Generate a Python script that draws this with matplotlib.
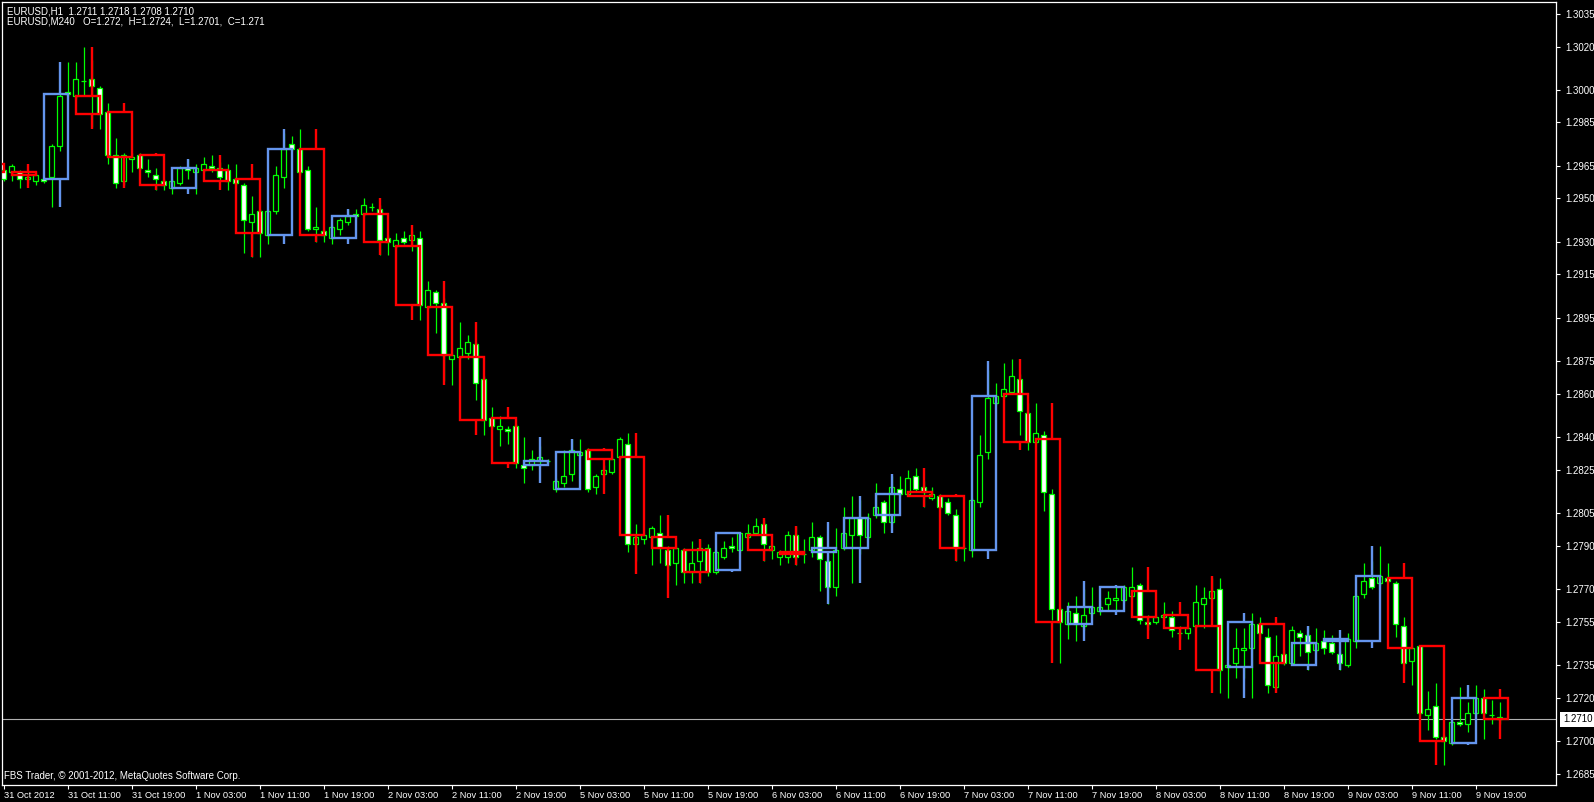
import matplotlib
matplotlib.use("Agg")
import matplotlib.pyplot as plt
import matplotlib.transforms as mtransforms
from matplotlib.patches import Rectangle
import numpy as np

plt.rcParams['font.family'] = ['Liberation Sans', 'DejaVu Sans']

# EURUSD H1 bars, 31 Oct 03:00 .. 9 Nov 22:00 (8 bars per row)
h1_open = [
    1.2963, 1.2962, 1.2962, 1.2959, 1.2958, 1.2959, 1.2960, 1.2974,
    1.2999, 1.2997, 1.3004, 1.3005, 1.3001, 1.2990, 1.2970, 1.2958,
    1.2968, 1.2970, 1.2963, 1.2961, 1.2958, 1.2955, 1.2957, 1.2964,
    1.2962, 1.2963, 1.2965, 1.2964, 1.2963, 1.2959, 1.2956, 1.2939,
    1.2944, 1.2933, 1.2944, 1.2960, 1.2975, 1.2973, 1.2963, 1.2936,
    1.2935, 1.2932, 1.2936, 1.2939, 1.2943, 1.2943, 1.2946, 1.2945,
    1.2932, 1.2928, 1.2932, 1.2931, 1.2932, 1.2900, 1.2907, 1.2902,
    1.2876, 1.2877, 1.2879, 1.2883, 1.2867, 1.2849, 1.2844, 1.2844,
    1.2845, 1.2827, 1.2827, 1.2829, 1.2829, 1.2816, 1.2819, 1.2823,
    1.2832, 1.2834, 1.2817, 1.2823, 1.2824, 1.2831, 1.2837, 1.2791,
    1.2793, 1.2794, 1.2796, 1.2788, 1.2782, 1.2788, 1.2778, 1.2783,
    1.2789, 1.2778, 1.2785, 1.2790, 1.2788, 1.2794, 1.2796, 1.2800,
    1.2788, 1.2785, 1.2785, 1.2795, 1.2786, 1.2788, 1.2794, 1.2783,
    1.2771, 1.2789, 1.2795, 1.2803, 1.2794, 1.2804, 1.2810, 1.2801,
    1.2816, 1.2814, 1.2822, 1.2817, 1.2812, 1.2813, 1.2810, 1.2804,
    1.2789, 1.2788, 1.2810, 1.2833, 1.2856, 1.2859, 1.2861, 1.2867,
    1.2851, 1.2838, 1.2841, 1.2814, 1.2761, 1.2754, 1.2759, 1.2753,
    1.2759, 1.2760, 1.2763, 1.2765, 1.2765, 1.2767, 1.2772, 1.2755,
    1.2755, 1.2757, 1.2757, 1.2750, 1.2750, 1.2753, 1.2763, 1.2766,
    1.2770, 1.2734, 1.2736, 1.2742, 1.2743, 1.2754, 1.2748, 1.2725,
    1.2740, 1.2736, 1.2750, 1.2749, 1.2742, 1.2746, 1.2745, 1.2740,
    1.2735, 1.2746, 1.2768, 1.2775, 1.2773, 1.2775, 1.2773, 1.2753,
    1.2737, 1.2744, 1.2712, 1.2716, 1.2702, 1.2699, 1.2709, 1.2708,
    1.2713, 1.2720, 1.2712, 1.2711,
]
h1_high = [
    1.2964, 1.2966, 1.2963, 1.2963, 1.2962, 1.2960, 1.2975, 1.2998,
    1.3013, 1.3013, 1.3020, 1.3014, 1.3002, 1.2994, 1.2978, 1.2971,
    1.2971, 1.2971, 1.2968, 1.2964, 1.2959, 1.2959, 1.2965, 1.2968,
    1.2966, 1.2969, 1.2970, 1.2967, 1.2966, 1.2966, 1.2957, 1.2951,
    1.2945, 1.2945, 1.2965, 1.2980, 1.2979, 1.2982, 1.2965, 1.2946,
    1.2936, 1.2938, 1.2941, 1.2945, 1.2945, 1.2950, 1.2948, 1.2947,
    1.2933, 1.2934, 1.2935, 1.2935, 1.2935, 1.2912, 1.2908, 1.2904,
    1.2879, 1.2893, 1.2887, 1.2884, 1.2868, 1.2854, 1.2850, 1.2845,
    1.2846, 1.2840, 1.2834, 1.2836, 1.2830, 1.2821, 1.2834, 1.2839,
    1.2839, 1.2835, 1.2823, 1.2827, 1.2831, 1.2840, 1.2842, 1.2800,
    1.2796, 1.2799, 1.2804, 1.2790, 1.2790, 1.2789, 1.2792, 1.2793,
    1.2791, 1.2788, 1.2792, 1.2794, 1.2796, 1.2800, 1.2803, 1.2802,
    1.2791, 1.2788, 1.2797, 1.2799, 1.2793, 1.2801, 1.2795, 1.2786,
    1.2798, 1.2808, 1.2813, 1.2811, 1.2805, 1.2819, 1.2811, 1.2822,
    1.2822, 1.2825, 1.2826, 1.2820, 1.2817, 1.2814, 1.2812, 1.2807,
    1.2790, 1.2812, 1.2841, 1.2871, 1.2865, 1.2874, 1.2876, 1.2869,
    1.2856, 1.2856, 1.2843, 1.2816, 1.2762, 1.2764, 1.2767, 1.2770,
    1.2771, 1.2765, 1.2769, 1.2771, 1.2772, 1.2780, 1.2773, 1.2758,
    1.2758, 1.2764, 1.2760, 1.2753, 1.2753, 1.2772, 1.2771, 1.2775,
    1.2775, 1.2736, 1.2752, 1.2752, 1.2759, 1.2757, 1.2752, 1.2749,
    1.2742, 1.2753, 1.2751, 1.2753, 1.2752, 1.2751, 1.2749, 1.2742,
    1.2750, 1.2768, 1.2782, 1.2783, 1.2790, 1.2782, 1.2774, 1.2757,
    1.2744, 1.2744, 1.2723, 1.2727, 1.2703, 1.2710, 1.2725, 1.2718,
    1.2726, 1.2724, 1.2719, 1.2718,
]
h1_low = [
    1.2958, 1.2958, 1.2955, 1.2957, 1.2956, 1.2957, 1.2946, 1.2972,
    1.2997, 1.2996, 1.2997, 1.2983, 1.2982, 1.2966, 1.2955, 1.2956,
    1.2962, 1.2963, 1.2960, 1.2954, 1.2954, 1.2952, 1.2956, 1.2959,
    1.2952, 1.2962, 1.2962, 1.2958, 1.2954, 1.2956, 1.2925, 1.2923,
    1.2923, 1.2929, 1.2943, 1.2955, 1.2972, 1.2961, 1.2935, 1.2930,
    1.2930, 1.2929, 1.2933, 1.2938, 1.2941, 1.2942, 1.2944, 1.2924,
    1.2924, 1.2927, 1.2929, 1.2926, 1.2894, 1.2899, 1.2888, 1.2866,
    1.2864, 1.2876, 1.2876, 1.2857, 1.2841, 1.2844, 1.2836, 1.2837,
    1.2826, 1.2819, 1.2825, 1.2827, 1.2828, 1.2815, 1.2817, 1.2820,
    1.2831, 1.2815, 1.2814, 1.2822, 1.2823, 1.2830, 1.2787, 1.2783,
    1.2791, 1.2781, 1.2782, 1.2774, 1.2772, 1.2773, 1.2773, 1.2773,
    1.2776, 1.2777, 1.2784, 1.2787, 1.2787, 1.2793, 1.2795, 1.2783,
    1.2784, 1.2781, 1.2782, 1.2781, 1.2782, 1.2785, 1.2769, 1.2763,
    1.2767, 1.2788, 1.2773, 1.2786, 1.2793, 1.2803, 1.2796, 1.2800,
    1.2813, 1.2813, 1.2815, 1.2808, 1.2811, 1.2807, 1.2804, 1.2783,
    1.2783, 1.2785, 1.2808, 1.2830, 1.2855, 1.2858, 1.2860, 1.2841,
    1.2834, 1.2837, 1.2806, 1.2756, 1.2736, 1.2747, 1.2746, 1.2751,
    1.2758, 1.2758, 1.2760, 1.2760, 1.2764, 1.2766, 1.2754, 1.2751,
    1.2754, 1.2756, 1.2748, 1.2747, 1.2747, 1.2752, 1.2752, 1.2765,
    1.2722, 1.2720, 1.2729, 1.2729, 1.2720, 1.2747, 1.2722, 1.2724,
    1.2735, 1.2735, 1.2739, 1.2733, 1.2741, 1.2740, 1.2740, 1.2733,
    1.2734, 1.2743, 1.2766, 1.2770, 1.2772, 1.2773, 1.2748, 1.2733,
    1.2726, 1.2712, 1.2705, 1.2701, 1.2689, 1.2698, 1.2707, 1.2704,
    1.2712, 1.2701, 1.2708, 1.2708,
]
h1_close = [
    1.2959, 1.2965, 1.2959, 1.2960, 1.2961, 1.2958, 1.2974, 1.2997,
    1.2998, 1.3005, 1.3004, 1.3002, 1.2989, 1.2970, 1.2957, 1.2970,
    1.2969, 1.2964, 1.2962, 1.2959, 1.2956, 1.2958, 1.2964, 1.2963,
    1.2964, 1.2966, 1.2964, 1.2960, 1.2958, 1.2957, 1.2940, 1.2943,
    1.2934, 1.2944, 1.2961, 1.2973, 1.2973, 1.2962, 1.2936, 1.2937,
    1.2933, 1.2937, 1.2940, 1.2942, 1.2942, 1.2947, 1.2946, 1.2931,
    1.2930, 1.2931, 1.2930, 1.2933, 1.2901, 1.2908, 1.2902, 1.2878,
    1.2878, 1.2881, 1.2884, 1.2865, 1.2848, 1.2845, 1.2845, 1.2843,
    1.2828, 1.2826, 1.2830, 1.2831, 1.2829, 1.2820, 1.2822, 1.2834,
    1.2833, 1.2816, 1.2822, 1.2825, 1.2830, 1.2839, 1.2791, 1.2794,
    1.2795, 1.2798, 1.2789, 1.2781, 1.2789, 1.2778, 1.2782, 1.2789,
    1.2778, 1.2787, 1.2789, 1.2789, 1.2796, 1.2796, 1.2799, 1.2791,
    1.2790, 1.2787, 1.2795, 1.2785, 1.2786, 1.2794, 1.2784, 1.2771,
    1.2788, 1.2796, 1.2803, 1.2795, 1.2803, 1.2808, 1.2801, 1.2817,
    1.2814, 1.2821, 1.2816, 1.2815, 1.2814, 1.2808, 1.2805, 1.2789,
    1.2789, 1.2811, 1.2832, 1.2858, 1.2859, 1.2862, 1.2868, 1.2852,
    1.2838, 1.2842, 1.2815, 1.2761, 1.2755, 1.2760, 1.2754, 1.2758,
    1.2762, 1.2762, 1.2766, 1.2766, 1.2771, 1.2771, 1.2756, 1.2754,
    1.2757, 1.2758, 1.2751, 1.2750, 1.2752, 1.2764, 1.2766, 1.2769,
    1.2733, 1.2735, 1.2743, 1.2743, 1.2754, 1.2750, 1.2726, 1.2739,
    1.2736, 1.2751, 1.2748, 1.2741, 1.2745, 1.2743, 1.2741, 1.2736,
    1.2747, 1.2767, 1.2774, 1.2771, 1.2776, 1.2774, 1.2754, 1.2736,
    1.2743, 1.2713, 1.2715, 1.2702, 1.2700, 1.2709, 1.2708, 1.2713,
    1.2720, 1.2713, 1.2712, 1.2710,
]

# EURUSD M240 bars, first one starts 31 Oct 00:00
h4_open = [
    1.2966, 1.2962, 1.2959, 1.2997, 1.2990, 1.2970, 1.2955, 1.2963,
    1.2959, 1.2933, 1.2973, 1.2932, 1.2943, 1.2928, 1.2900, 1.2877,
    1.2849, 1.2827, 1.2816, 1.2834, 1.2831, 1.2794, 1.2788, 1.2779,
    1.2795, 1.2787, 1.2787, 1.2789, 1.2804, 1.2815, 1.2813, 1.2788,
    1.2860, 1.2839, 1.2754, 1.2760, 1.2769, 1.2758, 1.2753, 1.2734,
    1.2754, 1.2735, 1.2746, 1.2746, 1.2775, 1.2744, 1.2699, 1.2720,
]
h4_high = [
    1.2968, 1.2966, 1.3013, 1.3020, 1.2994, 1.2971, 1.2968, 1.2970,
    1.2966, 1.2982, 1.2982, 1.2945, 1.2950, 1.2938, 1.2912, 1.2893,
    1.2854, 1.2840, 1.2839, 1.2835, 1.2842, 1.2804, 1.2793, 1.2796,
    1.2803, 1.2799, 1.2801, 1.2813, 1.2823, 1.2826, 1.2814, 1.2875,
    1.2876, 1.2856, 1.2774, 1.2772, 1.2780, 1.2764, 1.2776, 1.2759,
    1.2757, 1.2753, 1.2751, 1.2790, 1.2782, 1.2744, 1.2726, 1.2724,
]
h4_low = [
    1.2957, 1.2955, 1.2946, 1.2982, 1.2955, 1.2954, 1.2952, 1.2954,
    1.2923, 1.2929, 1.2930, 1.2929, 1.2924, 1.2894, 1.2864, 1.2841,
    1.2826, 1.2819, 1.2816, 1.2814, 1.2777, 1.2766, 1.2773, 1.2778,
    1.2783, 1.2781, 1.2763, 1.2773, 1.2796, 1.2808, 1.2783, 1.2784,
    1.2834, 1.2736, 1.2746, 1.2758, 1.2747, 1.2742, 1.2722, 1.2720,
    1.2722, 1.2733, 1.2733, 1.2743, 1.2727, 1.2689, 1.2698, 1.2701,
]
h4_close = [
    1.2962, 1.2961, 1.2998, 1.2989, 1.2969, 1.2956, 1.2964, 1.2958,
    1.2934, 1.2973, 1.2933, 1.2942, 1.2930, 1.2901, 1.2878, 1.2848,
    1.2828, 1.2829, 1.2833, 1.2830, 1.2795, 1.2789, 1.2778, 1.2796,
    1.2788, 1.2786, 1.2789, 1.2803, 1.2814, 1.2813, 1.2789, 1.2859,
    1.2838, 1.2755, 1.2762, 1.2771, 1.2757, 1.2752, 1.2733, 1.2755,
    1.2736, 1.2745, 1.2747, 1.2776, 1.2743, 1.2700, 1.2720, 1.2710,
]

time_labels = [
    "31 Oct 2012", "31 Oct 11:00", "31 Oct 19:00", "1 Nov 03:00", "1 Nov 11:00",
    "1 Nov 19:00", "2 Nov 03:00", "2 Nov 11:00", "2 Nov 19:00", "5 Nov 03:00",
    "5 Nov 11:00", "5 Nov 19:00", "6 Nov 03:00", "6 Nov 11:00", "6 Nov 19:00",
    "7 Nov 03:00", "7 Nov 11:00", "7 Nov 19:00", "8 Nov 03:00", "8 Nov 11:00",
    "8 Nov 19:00", "9 Nov 03:00", "9 Nov 11:00", "9 Nov 19:00",
]
price_ticks = [1.3035, 1.3020, 1.3000, 1.2985, 1.2965, 1.2950, 1.2930, 1.2915,
               1.2895, 1.2875, 1.2860, 1.2840, 1.2825, 1.2805, 1.2790, 1.2770,
               1.2755, 1.2735, 1.2720, 1.2700, 1.2685]
last_price = 1.2710

GREEN = '#00ff00'
RED = '#ff0000'
BLUE = '#6495ed'

fig = plt.figure(figsize=(15.94, 8.02), dpi=100, facecolor='black')
ax = fig.add_axes([2 / 1594, 17 / 802, 1554 / 1594, 783 / 802])
ax.set_facecolor('black')

# H1 candles
o = np.array(h1_open)
h = np.array(h1_high)
l = np.array(h1_low)
c = np.array(h1_close)
x = np.arange(len(o))
ax.vlines(x, l, h, color=GREEN, lw=0.9, zorder=2)
body_lo = np.minimum(o, c)
body_h = np.abs(c - o)
fills = np.where(c >= o, 'black', 'white')
ax.bar(x, body_h, bottom=body_lo, width=0.6, color=fills,
       edgecolor=GREEN, linewidth=0.9, zorder=3)

# M240 overlay boxes
for j in range(len(h4_open)):
    op, hi, lo, cl = h4_open[j], h4_high[j], h4_low[j], h4_close[j]
    col = BLUE if cl > op else RED
    top, bot = max(op, cl), min(op, cl)
    ax.add_patch(Rectangle((4 * j - 3, bot), 3, top - bot, fill=False,
                           edgecolor=col, lw=1.7, zorder=4))
    wx = 4 * j - 1
    ax.vlines([wx, wx], [top, lo], [hi, bot], color=col, lw=1.7, zorder=4)

# current price line
ax.axhline(last_price, color='#b0b0b0', lw=0.8, zorder=1)

ax.set_xlim(-0.2, 194.05)
ax.set_ylim(1.26798, 1.30405)

ax.yaxis.tick_right()
ax.set_yticks(price_ticks)
ax.set_yticklabels([f"{p:.4f}" for p in price_ticks])
ax.tick_params(axis='y', colors='white', length=3, width=0.8, labelsize=7, pad=4)

ax.set_xticks(np.arange(len(time_labels)) * 8)
ax.set_xticklabels(time_labels)
ax.tick_params(axis='x', colors='white', length=3, width=0.8, labelsize=6.7, pad=1)
for lbl in ax.get_xticklabels():
    lbl.set_ha('left')

for sp in ax.spines.values():
    sp.set_color('white')
    sp.set_linewidth(0.9)

trans = mtransforms.blended_transform_factory(ax.transAxes, ax.transData)
ax.text(1.0045, last_price, f"{last_price:.4f}", transform=trans, ha='left',
        va='center', color='black', fontsize=7, clip_on=False,
        bbox=dict(boxstyle='square,pad=0.3', fc='white', ec='none'))

fig.text(7 / 1594, 1 - 11 / 802, "EURUSD,H1  1.2711 1.2718 1.2708 1.2710",
         color='white', fontsize=7, va='center')
fig.text(7 / 1594, 1 - 21 / 802,
         "EURUSD,M240   O=1.272,  H=1.2724,  L=1.2701,  C=1.271",
         color='white', fontsize=7, va='center')
fig.text(4 / 1594, 1 - 776 / 802,
         "FBS Trader, \u00a9 2001-2012, MetaQuotes Software Corp.",
         color='white', fontsize=7, va='center')

fig.savefig('out.png', dpi=100, facecolor='black')
